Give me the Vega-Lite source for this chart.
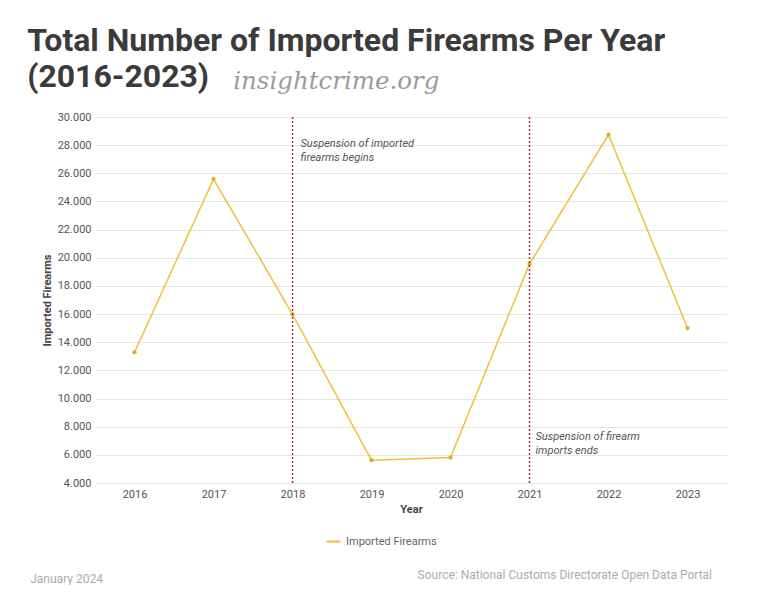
{
  "$schema": "https://vega.github.io/schema/vega-lite/v6.json",
  "background": "white",
  "padding": {"left": 27, "top": 24, "right": 0, "bottom": 0},
  "config": {
    "view": {"stroke": null},
    "concat": {"spacing": 0},
    "font": "Roboto",
    "locale": {"number": {"decimal": ",", "thousands": ".", "grouping": [3], "currency": ["", "€"]}}
  },
  "resolve": {"legend": {"color": "independent"}},
  "title": {
    "text": "Source: National Customs Directorate Open Data Portal",
    "orient": "bottom", "anchor": "end", "frame": "bounds", "dx": -15, "offset": -15,
    "font": "Roboto", "fontSize": 12, "fontWeight": "normal", "color": "#ababab"
  },
  "vconcat": [
    {
      "resolve": {"legend": {"color": "independent"}},
      "title": {
        "text": "January 2024",
        "orient": "bottom", "anchor": "start", "frame": "bounds", "dx": 3, "offset": 27,
        "font": "Roboto", "fontSize": 12, "fontWeight": "normal", "color": "#ababab"
      },
      "vconcat": [
        {
          "resolve": {"legend": {"color": "independent"}},
          "title": {
            "text": ["Total Number of Imported Firearms Per Year", "(2016-2023)"],
            "anchor": "start", "frame": "bounds", "dx": -14, "offset": -25,
            "font": "Roboto", "fontSize": 32, "fontWeight": "bold",
            "color": "#3b3b3b", "lineHeight": 36
          },
          "vconcat": [
            {
              "width": 632,
              "height": 366,
              "title": {
                "text": "insightcrime.org",
                "anchor": "start", "frame": "bounds", "dx": 192, "offset": 17,
                "font": "DejaVu Serif", "fontStyle": "italic", "fontWeight": "normal",
                "fontSize": 24.5, "color": "#9b9b9b"
              },
              "data": {"values": [
                {"year": "2016", "firearms": 13280},
                {"year": "2017", "firearms": 25590},
                {"year": "2018", "firearms": 15980},
                {"year": "2019", "firearms": 5620},
                {"year": "2020", "firearms": 5810},
                {"year": "2021", "firearms": 19560},
                {"year": "2022", "firearms": 28740},
                {"year": "2023", "firearms": 15010}
              ]},
              "encoding": {
                "x": {
                  "field": "year", "type": "ordinal",
                  "scale": {"type": "point", "padding": 0.5},
                  "axis": {
                    "title": "Year", "labelAngle": 0, "domain": false, "ticks": false, "grid": false,
                    "labelFontSize": 11, "labelColor": "#555555", "labelPadding": 5,
                    "titleFontSize": 11, "titleFontWeight": "bold", "titleColor": "#444444", "titlePadding": 4
                  }
                }
              },
              "layer": [
                {
                  "encoding": {
                    "y": {
                      "field": "firearms", "type": "quantitative",
                      "scale": {"domain": [4000, 30000], "nice": false, "zero": false},
                      "axis": {
                        "title": "Imported Firearms", "format": ",d",
                        "values": [4000, 6000, 8000, 10000, 12000, 14000, 16000, 18000, 20000, 22000, 24000, 26000, 28000, 30000],
                        "labelOverlap": false,
                        "domain": false, "ticks": false, "gridColor": "#e6e6e6",
                        "labelFontSize": 11, "labelColor": "#555555", "labelPadding": 4,
                        "titleFontSize": 11, "titleFontWeight": "bold", "titleColor": "#444444", "titlePadding": 5
                      }
                    }
                  },
                  "layer": [
                    {
                      "mark": {"type": "line", "strokeWidth": 1.5},
                      "encoding": {
                        "color": {
                          "datum": "Imported Firearms",
                          "scale": {"range": ["#f0c138"]},
                          "legend": {
                            "title": null, "orient": "none", "legendX": 230, "legendY": 416,
                            "direction": "horizontal", "symbolType": "stroke", "symbolStrokeWidth": 2,
                            "symbolSize": 200, "labelFontSize": 11, "labelColor": "#666666"
                          }
                        }
                      }
                    },
                    {
                      "mark": {"type": "point", "filled": true, "size": 18, "color": "#e2aa2c", "opacity": 1}
                    }
                  ]
                },
                {
                  "data": {"values": [{"year": "2018"}, {"year": "2021"}]},
                  "mark": {"type": "rule", "color": "#a8343a", "strokeDash": [2, 2], "strokeWidth": 1.5},
                  "encoding": {"x": {"field": "year", "type": "ordinal"}}
                },
                {
                  "data": {"values": [{"year": "2018", "note": "Suspension of imported\nfirearms begins"}]},
                  "mark": {"type": "text", "align": "left", "dx": 8, "fontSize": 11, "fontStyle": "italic", "color": "#555555", "lineBreak": "\n", "lineHeight": 14},
                  "encoding": {
                    "x": {"field": "year", "type": "ordinal"},
                    "y": {
                      "datum": 28100, "type": "quantitative",
                      "axis": {
                        "title": "Imported Firearms", "format": ",d",
                        "values": [4000, 6000, 8000, 10000, 12000, 14000, 16000, 18000, 20000, 22000, 24000, 26000, 28000, 30000],
                        "labelOverlap": false,
                        "domain": false, "ticks": false, "gridColor": "#e6e6e6",
                        "labelFontSize": 11, "labelColor": "#555555", "labelPadding": 4,
                        "titleFontSize": 11, "titleFontWeight": "bold", "titleColor": "#444444", "titlePadding": 5
                      }
                    },
                    "text": {"field": "note"}
                  }
                },
                {
                  "data": {"values": [{"year": "2021", "note": "Suspension of firearm\nimports ends"}]},
                  "mark": {"type": "text", "align": "left", "dx": 6, "fontSize": 11, "fontStyle": "italic", "color": "#555555", "lineBreak": "\n", "lineHeight": 14},
                  "encoding": {
                    "x": {"field": "year", "type": "ordinal"},
                    "y": {
                      "datum": 7250, "type": "quantitative",
                      "axis": {
                        "title": "Imported Firearms", "format": ",d",
                        "values": [4000, 6000, 8000, 10000, 12000, 14000, 16000, 18000, 20000, 22000, 24000, 26000, 28000, 30000],
                        "labelOverlap": false,
                        "domain": false, "ticks": false, "gridColor": "#e6e6e6",
                        "labelFontSize": 11, "labelColor": "#555555", "labelPadding": 4,
                        "titleFontSize": 11, "titleFontWeight": "bold", "titleColor": "#444444", "titlePadding": 5
                      }
                    },
                    "text": {"field": "note"}
                  }
                }
              ]
            }
          ]
        }
      ]
    }
  ]
}
